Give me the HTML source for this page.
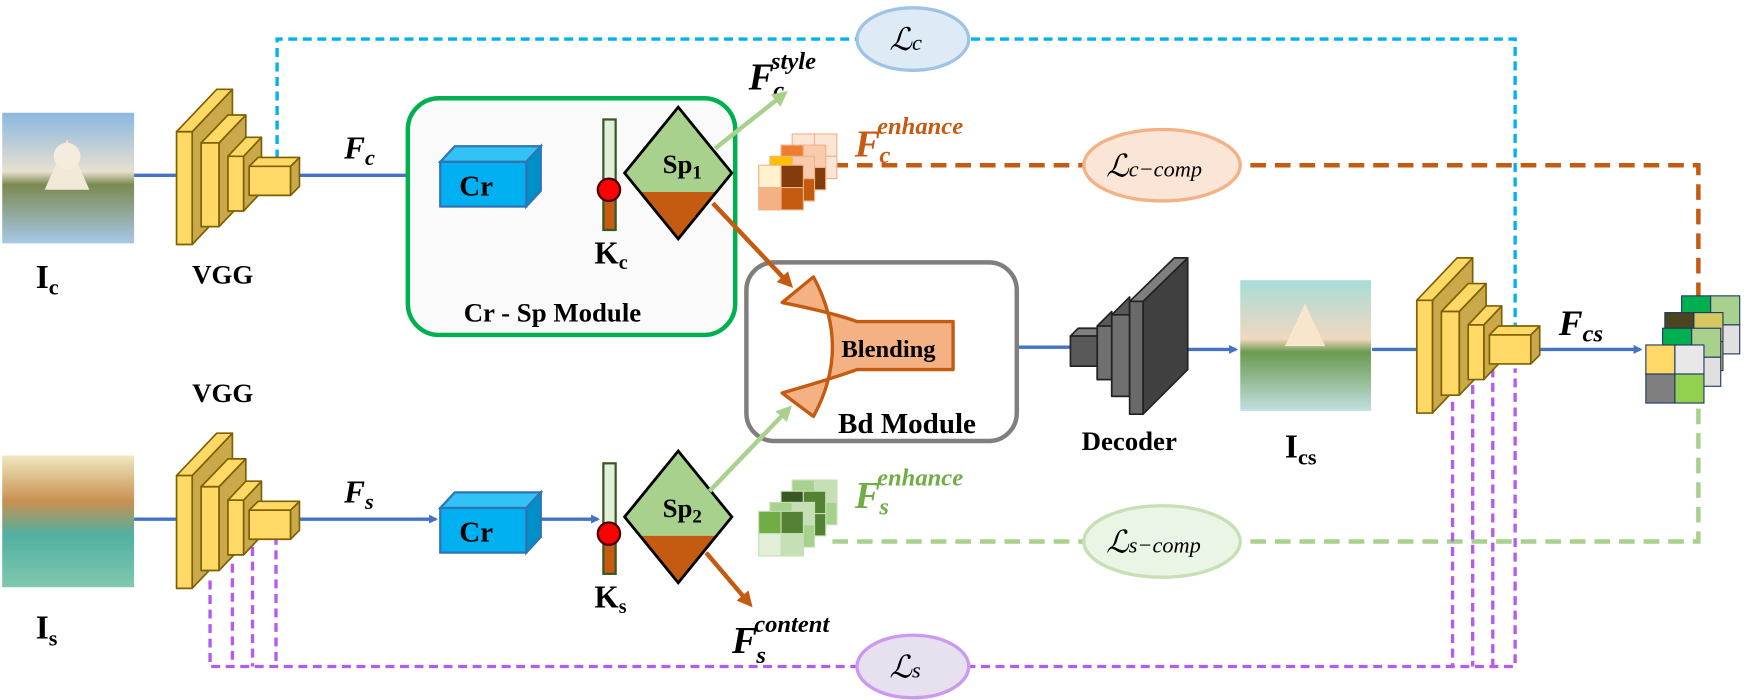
<!DOCTYPE html>
<html><head><meta charset="utf-8"><style>
html,body{margin:0;padding:0;background:#fff;}
svg{display:block}
.b{font-family:"Liberation Serif",serif;font-weight:bold;fill:#000}
.m{font-family:"Liberation Serif",serif;font-weight:bold;font-style:italic}
.L{font-family:"Liberation Serif",serif;font-style:italic;fill:#000}
</style></head><body>
<svg width="1752" height="700" viewBox="0 0 1568 627" preserveAspectRatio="none" xmlns="http://www.w3.org/2000/svg">
<defs>
<marker id="ab" markerWidth="8" markerHeight="8" refX="6" refY="4" orient="auto" markerUnits="userSpaceOnUse"><path d="M0,0 L8,4 L0,8 z" fill="#4472c4"/></marker>
<marker id="ag" markerWidth="14" markerHeight="14" refX="10" refY="7" orient="auto" markerUnits="userSpaceOnUse"><path d="M0,0 L14,7 L0,14 z" fill="#a9d18e"/></marker>
<marker id="ao" markerWidth="14" markerHeight="14" refX="10" refY="7" orient="auto" markerUnits="userSpaceOnUse"><path d="M0,0 L14,7 L0,14 z" fill="#c55a11"/></marker>
<linearGradient id="sky" x1="0" y1="0" x2="0" y2="1"><stop offset="0" stop-color="#8ab8e0"/><stop offset="0.45" stop-color="#e8e0d0"/><stop offset="0.55" stop-color="#7a8a50"/><stop offset="1" stop-color="#a8c8e8"/></linearGradient>
<linearGradient id="sky2" x1="0" y1="0" x2="0" y2="1"><stop offset="0" stop-color="#a8dcd8"/><stop offset="0.45" stop-color="#f0d8c0"/><stop offset="0.55" stop-color="#6a9a50"/><stop offset="1" stop-color="#c0e0e0"/></linearGradient>
<linearGradient id="sea" x1="0" y1="0" x2="0" y2="1"><stop offset="0" stop-color="#f0e8c0"/><stop offset="0.35" stop-color="#c89050"/><stop offset="0.6" stop-color="#50b0a0"/><stop offset="1" stop-color="#80c8b0"/></linearGradient>
</defs>

<g fill="none" stroke-width="3">
<path d="M248,142 V35 H1356 V300" stroke="#00b0f0" stroke-dasharray="8,5"/>
<path d="M745,148 H1520 V268" stroke="#c55a11" stroke-width="4" stroke-dasharray="14,8"/>
<path d="M745,485 H1520 V335" stroke="#a9d18e" stroke-width="4" stroke-dasharray="14,8"/>
<g stroke="#b45cf0" stroke-dasharray="8,5">
<path d="M188,520 V597 H1356 V330"/>
<path d="M208,505 V597"/><path d="M226,490 V597"/><path d="M247,480 V597"/>
<path d="M1300,360 V597"/><path d="M1318,345 V597"/><path d="M1336,330 V597"/>
</g>
</g>
<ellipse cx="817" cy="35" rx="50" ry="28" fill="#deebf7" stroke="#9dc3e6" stroke-width="3"/>
<text x="796" y="45" class="L" font-size="28">ℒ<tspan font-size="20">c</tspan></text>
<ellipse cx="1040" cy="148" rx="70" ry="32" fill="#fbe5d6" stroke="#f4b183" stroke-width="3"/>
<text x="990" y="158" class="L" font-size="28">ℒ<tspan font-size="20">c−comp</tspan></text>
<ellipse cx="1040" cy="485" rx="70" ry="32" fill="#ebf5e5" stroke="#c5e0b4" stroke-width="3"/>
<text x="990" y="495" class="L" font-size="28">ℒ<tspan font-size="20">s−comp</tspan></text>
<ellipse cx="817" cy="597" rx="50" ry="28" fill="#e6e0ef" stroke="#cc99f0" stroke-width="3"/>
<text x="796" y="607" class="L" font-size="28">ℒ<tspan font-size="20">s</tspan></text>

<rect x="2" y="101" width="118" height="117" fill="url(#sky)"/>
<path d="M40,170 L60,125 L80,170 Z" fill="#f2ead8"/><circle cx="60" cy="140" r="12" fill="#f4ecdc"/>
<rect x="2" y="408" width="118" height="118" fill="url(#sea)"/>
<text x="32" y="258" class="b" font-size="30">I<tspan font-size="20" dy="6">c</tspan></text>
<text x="32" y="572" class="b" font-size="30">I<tspan font-size="20" dy="6">s</tspan></text>

<g stroke="#4472c4" stroke-width="3" fill="none">
<line x1="120" y1="157" x2="160" y2="157"/>
<line x1="268" y1="157" x2="390" y2="157" marker-end="url(#ab)"/>
<line x1="480" y1="157" x2="535" y2="157" marker-end="url(#ab)"/>
<line x1="120" y1="465" x2="160" y2="465"/>
<line x1="268" y1="465" x2="390" y2="465" marker-end="url(#ab)"/>
<line x1="480" y1="465" x2="535" y2="465" marker-end="url(#ab)"/>
<line x1="853" y1="311" x2="960" y2="311"/>
<line x1="1045" y1="313" x2="1106" y2="313" marker-end="url(#ab)"/>
<line x1="1228" y1="313" x2="1272" y2="313"/>
<line x1="1378" y1="313" x2="1468" y2="313" marker-end="url(#ab)"/>
</g>

<g stroke="#7f6000" stroke-width="1.5" stroke-linejoin="round">
<g id="vgg">
<polygon points="172,118 208,80 208,181 172,219" fill="#c9a94a"/><polygon points="158,118 194,80 208,80 172,118" fill="#ffd966"/><rect x="158" y="118" width="14" height="101" fill="#ffd966"/>
<polygon points="196,128 220,103 220,178 196,203" fill="#c9a94a"/><polygon points="180,128 204,103 220,103 196,128" fill="#ffd966"/><rect x="180" y="128" width="16" height="75" fill="#ffd966"/>
<polygon points="218,140 234,123 234,172 218,189" fill="#c9a94a"/><polygon points="204,140 220,123 234,123 218,140" fill="#ffd966"/><rect x="204" y="140" width="14" height="49" fill="#ffd966"/>
<polygon points="260,149 268,141 268,167 260,175" fill="#c9a94a"/><polygon points="223,149 231,141 268,141 260,149" fill="#ffd966"/><rect x="223" y="149" width="37" height="26" fill="#ffd966"/>
</g>
<use href="#vgg" y="308"/>
<use href="#vgg" x="1110" y="151"/>
</g>
<text x="172" y="254" class="b" font-size="24">VGG</text>
<text x="172" y="360" class="b" font-size="24">VGG</text>

<text x="308" y="142" class="m" font-size="28">F<tspan font-size="20" dy="6">c</tspan></text>
<text x="308" y="450" class="m" font-size="28">F<tspan font-size="20" dy="6">s</tspan></text>

<rect x="365" y="88" width="293" height="212" rx="28" fill="#fafafa" stroke="#00b050" stroke-width="4"/>
<text x="415" y="288" class="b" font-size="24">Cr - Sp Module</text>

<g id="cr" stroke="#2e75b6" stroke-width="2">
<polygon points="394,145 407,131 484,131 471,145" fill="#33c2f5"/>
<polygon points="471,145 484,131 484,171 471,185" fill="#0090c8"/>
<rect x="394" y="145" width="77" height="40" fill="#00b0f0"/>
</g>
<use href="#cr" y="310"/>
<text x="411" y="175" class="b" font-size="26">Cr</text>
<text x="411" y="485" class="b" font-size="26">Cr</text>

<g id="kc">
<rect x="540" y="107" width="11" height="60" fill="#e2f0d9" stroke="#385723" stroke-width="2"/>
<rect x="540" y="172" width="11" height="34" fill="#c55a11" stroke="#385723" stroke-width="2"/>
<circle cx="545" cy="170" r="10" fill="#ff0000" stroke="#400" stroke-width="2"/>
<polygon points="607,96 655,155 607,214 559,155" fill="#a9d18e"/>
<polygon points="573,172 641,172 607,214" fill="#c55a11"/>
<polygon points="607,96 655,155 607,214 559,155" fill="none" stroke="#000" stroke-width="2.5"/>
</g>
<use href="#kc" y="308"/>
<text x="593" y="155" class="b" font-size="24">Sp<tspan font-size="17" dy="5">1</tspan></text>
<text x="593" y="463" class="b" font-size="24">Sp<tspan font-size="17" dy="5">2</tspan></text>
<text x="532" y="236" class="b" font-size="28">K<tspan font-size="18" dy="5">c</tspan></text>
<text x="532" y="544" class="b" font-size="28">K<tspan font-size="18" dy="5">s</tspan></text>

<text x="670" y="80" class="m" font-size="34">F</text><text x="690" y="62" class="m" font-size="22">style</text><text x="692" y="88" class="m" font-size="22">c</text>
<text x="655" y="585" class="m" font-size="34">F</text><text x="675" y="566" class="m" font-size="22">content</text><text x="677" y="594" class="m" font-size="22">s</text>
<text x="765" y="140" class="m" font-size="34" fill="#c55a11">F</text><text x="785" y="120" class="m" font-size="22" fill="#c55a11">enhance</text><text x="787" y="146" class="m" font-size="22" fill="#c55a11">c</text>
<text x="765" y="455" class="m" font-size="34" fill="#70ad47">F</text><text x="785" y="435" class="m" font-size="22" fill="#70ad47">enhance</text><text x="787" y="461" class="m" font-size="22" fill="#70ad47">s</text>

<g stroke="#f4b183" stroke-width="1">
<rect x="709" y="120" width="20" height="20" fill="#fbe5d6"/><rect x="729" y="120" width="20" height="20" fill="#fbe5d6"/><rect x="709" y="140" width="20" height="20" fill="#fbe5d6"/><rect x="729" y="140" width="20" height="20" fill="#fbe5d6"/>
<rect x="699" y="130" width="20" height="20" fill="#ed7d31"/><rect x="719" y="130" width="20" height="20" fill="#f8cbad"/><rect x="699" y="150" width="20" height="20" fill="#f8cbad"/><rect x="719" y="150" width="20" height="20" fill="#843c0c"/>
<rect x="689" y="140" width="20" height="20" fill="#ffc000"/><rect x="709" y="140" width="20" height="20" fill="#f8cbad"/><rect x="689" y="160" width="20" height="20" fill="#f8cbad"/><rect x="709" y="160" width="20" height="20" fill="#c55a11"/>
<rect x="679" y="148" width="20" height="20" fill="#fff2cc"/><rect x="699" y="148" width="20" height="20" fill="#843c0c"/><rect x="679" y="168" width="20" height="20" fill="#f4b183"/><rect x="699" y="168" width="20" height="20" fill="#c55a11"/>
</g>
<g stroke="#c5e0b4" stroke-width="1">
<rect x="709" y="430" width="20" height="20" fill="#a9d18e"/><rect x="729" y="430" width="20" height="20" fill="#c5e0b4"/><rect x="709" y="450" width="20" height="20" fill="#c5e0b4"/><rect x="729" y="450" width="20" height="20" fill="#a9d18e"/>
<rect x="699" y="440" width="20" height="20" fill="#385723"/><rect x="719" y="440" width="20" height="20" fill="#548235"/><rect x="699" y="460" width="20" height="20" fill="#c5e0b4"/><rect x="719" y="460" width="20" height="20" fill="#548235"/>
<rect x="689" y="450" width="20" height="20" fill="#a9d18e"/><rect x="709" y="450" width="20" height="20" fill="#c5e0b4"/><rect x="689" y="470" width="20" height="20" fill="#c5e0b4"/><rect x="709" y="470" width="20" height="20" fill="#a9d18e"/>
<rect x="679" y="458" width="20" height="20" fill="#70ad47"/><rect x="699" y="458" width="20" height="20" fill="#548235"/><rect x="679" y="478" width="20" height="20" fill="#e2f0d9"/><rect x="699" y="478" width="20" height="20" fill="#c5e0b4"/>
</g>

<rect x="668" y="235" width="242" height="160" rx="25" fill="#fff" stroke="#7f7f7f" stroke-width="4"/>
<path d="M700,271 Q745,280 767,288 H853 V331 H767 Q745,339 700,352 L728,373 Q762,311 728,248 Z" fill="#f4b183" stroke="#c55a11" stroke-width="3" stroke-linejoin="round"/>
<text x="753" y="320" class="b" font-size="22">Blending</text>
<text x="750" y="388" class="b" font-size="26">Bd Module</text>

<line x1="640" y1="133" x2="702" y2="84" stroke="#a9d18e" stroke-width="4" marker-end="url(#ag)"/>
<line x1="638" y1="182" x2="707" y2="255" stroke="#c55a11" stroke-width="4" marker-end="url(#ao)"/>
<line x1="635" y1="440" x2="706" y2="366" stroke="#a9d18e" stroke-width="4" marker-end="url(#ag)"/>
<line x1="632" y1="495" x2="671" y2="541" stroke="#c55a11" stroke-width="4" marker-end="url(#ao)"/>

<g stroke="#222" stroke-width="1.5" stroke-linejoin="round">
<polygon points="1023,270 1063,231 1063,331 1023,371" fill="#404040"/>
<polygon points="1011,270 1051,231 1063,231 1023,270" fill="#7f7f7f"/>
<polygon points="995,282 1011,266 1011,355 995,355" fill="#595959"/>
<polygon points="982,292 995,279 995,340 982,340" fill="#595959"/>
<polygon points="958,301 965,294 982,294 982,301" fill="#7f7f7f"/>
<rect x="958" y="301" width="24" height="27" fill="#595959"/>
<rect x="982" y="292" width="13" height="48" fill="#707070"/>
<rect x="995" y="282" width="16" height="73" fill="#707070"/>
<rect x="1011" y="270" width="12" height="101" fill="#6a6a6a"/>
</g>
<text x="968" y="403" class="b" font-size="24">Decoder</text>

<rect x="1110" y="251" width="117" height="117" fill="url(#sky2)"/>
<path d="M1150,310 L1168,272 L1186,310 Z" fill="#f8e6cc"/>
<text x="1150" y="410" class="b" font-size="30">I<tspan font-size="20" dy="6">cs</tspan></text>

<text x="1395" y="300" class="m" font-size="32">F<tspan font-size="22" dy="6">cs</tspan></text>

<g stroke="#1f3864" stroke-width="1">
<rect x="1505" y="265" width="26" height="26" fill="#00b050"/><rect x="1531" y="265" width="26" height="26" fill="#a9d18e"/><rect x="1505" y="291" width="26" height="26" fill="#e0e0e0"/><rect x="1531" y="291" width="26" height="26" fill="#e0e0e0"/>
<rect x="1490" y="280" width="26" height="26" fill="#4a4520"/><rect x="1516" y="280" width="26" height="26" fill="#d6c860"/><rect x="1490" y="306" width="26" height="26" fill="#c8c060"/><rect x="1516" y="306" width="26" height="26" fill="#c0b850"/>
<rect x="1488" y="294" width="26" height="26" fill="#00b050"/><rect x="1514" y="294" width="26" height="26" fill="#a9d18e"/><rect x="1488" y="320" width="26" height="26" fill="#e0e0e0"/><rect x="1514" y="320" width="26" height="26" fill="#e0e0e0"/>
<rect x="1473" y="309" width="26" height="26" fill="#ffd966"/><rect x="1499" y="309" width="26" height="26" fill="#e8e8e8"/><rect x="1473" y="335" width="26" height="26" fill="#7f7f7f"/><rect x="1499" y="335" width="26" height="26" fill="#92d050"/>
</g>
</svg>
</body></html>
